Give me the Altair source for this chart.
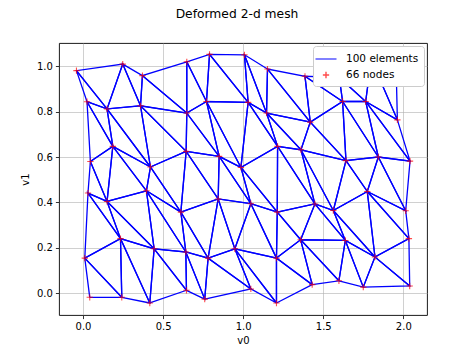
import altair as alt
import pandas as pd

title_text = "Deformed 2-d mesh"
series_names = ["100 elements", "66 nodes"]
series_colors = ["#0000ff", "#ff0000"]
x_ticks = [0.0, 0.5, 1.0, 1.5, 2.0]
y_ticks = [0.0, 0.2, 0.4, 0.6, 0.8, 1.0]

# node coordinates of the deformed 11 x 6 grid, one list per grid row
v0_row0 = [0.042, 0.242, 0.417, 0.646, 0.760, 1.048, 1.208, 1.431, 1.598, 1.750, 2.040]
v1_row0 = [-0.019, -0.019, -0.044, 0.012, -0.027, 0.018, -0.044, 0.037, 0.054, 0.026, 0.031]
v0_row1 = [0.011, 0.234, 0.444, 0.642, 0.781, 0.948, 1.208, 1.359, 1.638, 1.823, 2.035]
v1_row1 = [0.154, 0.240, 0.195, 0.181, 0.154, 0.195, 0.154, 0.235, 0.232, 0.159, 0.240]
v0_row2 = [0.031, 0.150, 0.396, 0.611, 0.844, 1.048, 1.213, 1.448, 1.563, 1.775, 2.015]
v1_row2 = [0.441, 0.404, 0.451, 0.357, 0.415, 0.394, 0.357, 0.393, 0.364, 0.448, 0.363]
v0_row3 = [0.046, 0.186, 0.421, 0.644, 0.850, 0.986, 1.215, 1.361, 1.642, 1.844, 2.042]
v1_row3 = [0.580, 0.647, 0.556, 0.625, 0.603, 0.554, 0.647, 0.632, 0.584, 0.600, 0.582]
v0_row4 = [0.025, 0.150, 0.359, 0.648, 0.771, 1.031, 1.146, 1.419, 1.621, 1.765, 1.963]
v1_row4 = [0.844, 0.812, 0.826, 0.794, 0.845, 0.841, 0.794, 0.754, 0.845, 0.845, 0.764]
v0_row5 = [-0.041, 0.248, 0.371, 0.648, 0.790, 1.008, 1.152, 1.386, 1.600, 1.800, 1.955]
v1_row5 = [0.981, 1.010, 0.959, 1.020, 1.053, 1.051, 0.988, 0.956, 0.951, 1.030, 1.000]

rows_x = [v0_row0, v0_row1, v0_row2, v0_row3, v0_row4, v0_row5]
rows_y = [v1_row0, v1_row1, v1_row2, v1_row3, v1_row4, v1_row5]
nx, ny = len(v0_row0), len(rows_x)

# triangular elements (each closed polyline)
edge_records = []
t = 0
for j in range(ny - 1):
    for i in range(nx - 1):
        for tri in ([(i, j), (i + 1, j), (i, j + 1)],
                    [(i + 1, j), (i + 1, j + 1), (i, j + 1)]):
            for k, (a, b) in enumerate(tri + [tri[0]]):
                edge_records.append({"tri": t, "k": k, "v0": rows_x[b][a],
                                     "v1": rows_y[b][a], "series": series_names[0]})
            t += 1
edges = pd.DataFrame(edge_records)

node_records = []
for j in range(ny):
    for i in range(nx):
        node_records.append({"v0": rows_x[j][i], "v1": rows_y[j][i], "series": series_names[1]})
nodes = pd.DataFrame(node_records)

line_path = "M-1.5,0L1.5,0"
plus_path = "M-0.45,0L0.45,0M0,-0.45L0,0.45"

font = "DejaVu Sans"
legend = alt.Legend(title=None, orient="top-right", offset=3, fillColor="white",
                    strokeColor="#cccccc", cornerRadius=3, padding=5,
                    labelFontSize=10.5, labelFont=font, labelColor="black",
                    symbolSize=196, symbolStrokeWidth=1.4, rowPadding=2, labelOffset=12)

color_scale = alt.Scale(domain=series_names, range=series_colors)
shape_scale = alt.Scale(domain=series_names, range=[line_path, plus_path])

x_enc = alt.X("v0:Q", scale=alt.Scale(domain=[-0.15, 2.148], nice=False, zero=False),
              axis=alt.Axis(values=x_ticks, format=".1f", title="v0"))
y_enc = alt.Y("v1:Q", scale=alt.Scale(domain=[-0.097, 1.103], nice=False, zero=False),
              axis=alt.Axis(values=y_ticks, format=".1f", title="v1"))

lines = alt.Chart(edges).mark_line(strokeWidth=1.3, clip=True).encode(
    x=x_enc, y=y_enc,
    detail="tri:N",
    order="k:Q",
    color=alt.Color("series:N", scale=color_scale, legend=legend),
)

points = alt.Chart(nodes).mark_point(size=196, strokeWidth=1.1, filled=False, clip=True).encode(
    x=x_enc, y=y_enc,
    color=alt.Color("series:N", scale=color_scale, legend=legend),
    shape=alt.Shape("series:N", scale=shape_scale, legend=legend),
)

chart = alt.layer(lines, points).properties(
    width=368, height=272,
    title=alt.TitleParams(title_text, fontSize=12.3, font=font, fontWeight="normal",
                          color="black", anchor="middle", dx=-6, offset=23),
    padding={"left": 51, "top": 35, "right": 39, "bottom": 32},
    autosize=alt.AutoSizeParams(type="none"),
).configure_view(
    stroke="black", strokeWidth=0.9
).configure_axis(
    grid=True, gridColor="#b0b0b0", gridWidth=0.6, domain=False,
    tickColor="black", tickSize=3.6, tickWidth=0.8,
    labelFont=font, labelFontSize=10, labelColor="black", labelPadding=3,
    titleFont=font, titleFontSize=10, titleFontWeight="normal", titleColor="black",
).configure_axisX(titlePadding=4).configure_axisY(titlePadding=6)

chart.save("out.html", embed_options={"renderer": "svg", "actions": False})
